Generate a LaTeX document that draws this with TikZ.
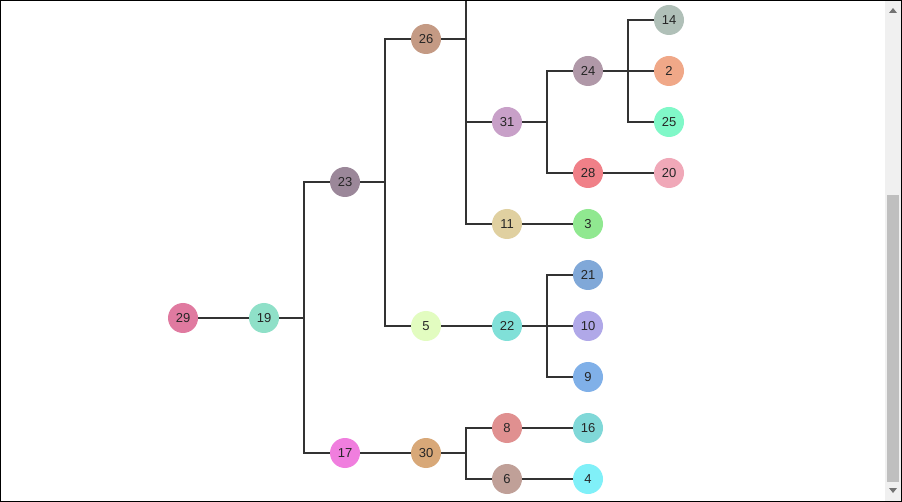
\documentclass[tikz,border=0pt]{standalone}
\usepackage{fontspec}
\setmainfont{Liberation Sans}
\begin{document}
\begin{tikzpicture}[x=1pt,y=-1pt,
  nd/.style={circle,minimum size=30pt,inner sep=0pt,font=\fontsize{13}{13}\selectfont,text=black!85},
  ed/.style={draw=black!80,line width=2.5pt}]
\useasboundingbox (0,0) rectangle (902,502);
\fill[white] (0,0) rectangle (902,502);
% scrollbar
\fill[black!6] (885,1) rectangle (901,501);
\fill[black!25] (887,195) rectangle (899,482);
\fill[black!55] (889,13) -- (897,13) -- (893,8) -- cycle;
\fill[black!55] (889,488) -- (897,488) -- (893,493) -- cycle;
\draw[black,line width=1pt] (0.5,0.5) rectangle (901.5,501.5);
\foreach \n/\x/\y in {29/183/318,19/264/318,23/345/182,17/345/453,
  26/426/39,5/426/326,30/426/453,31/507/122,11/507/224,
  22/507/326,8/507/428,6/507/479,24/588/71,28/588/173,
  3/588/224,21/588/275,10/588/326,9/588/377,16/588/428,
  4/588/479,14/669/20,2/669/71,25/669/122,20/669/173}{
  \coordinate (p\n) at (\x,\y);
}
\coordinate (top) at (466,1);
\foreach \p/\ch in {29/19,19/23,19/17,23/26,23/5,17/30,26/31,26/11,5/22,30/8,30/6,
  31/24,31/28,11/3,22/21,22/10,22/9,8/16,6/4,24/14,24/2,24/25,28/20}{
  \draw[ed] (p\p) -- ([xshift=40pt]p\p) |- (p\ch);
}
\draw[ed] ([xshift=40pt]p26) -- (top);
\foreach \n/\c in {29/E07AA0,19/8FE0C8,23/9B8799,17/F07EDE,
  26/C49A84,5/E2FCC0,30/D8A878,31/C8A0C8,11/E0D0A0,
  22/80E0D8,8/E09090,6/C0A098,24/B098A8,28/F08088,
  3/90E890,21/80A8D8,10/B0A8E8,9/80B0E8,16/80D8D8,
  4/80F0F8,14/B0C0B8,2/F0A888,25/80F8C8,20/F0A8B8}{
  \definecolor{cc}{HTML}{\c}
  \node[nd,fill=cc] (n\n) at (p\n) {\n};
}
\end{tikzpicture}
\end{document}
